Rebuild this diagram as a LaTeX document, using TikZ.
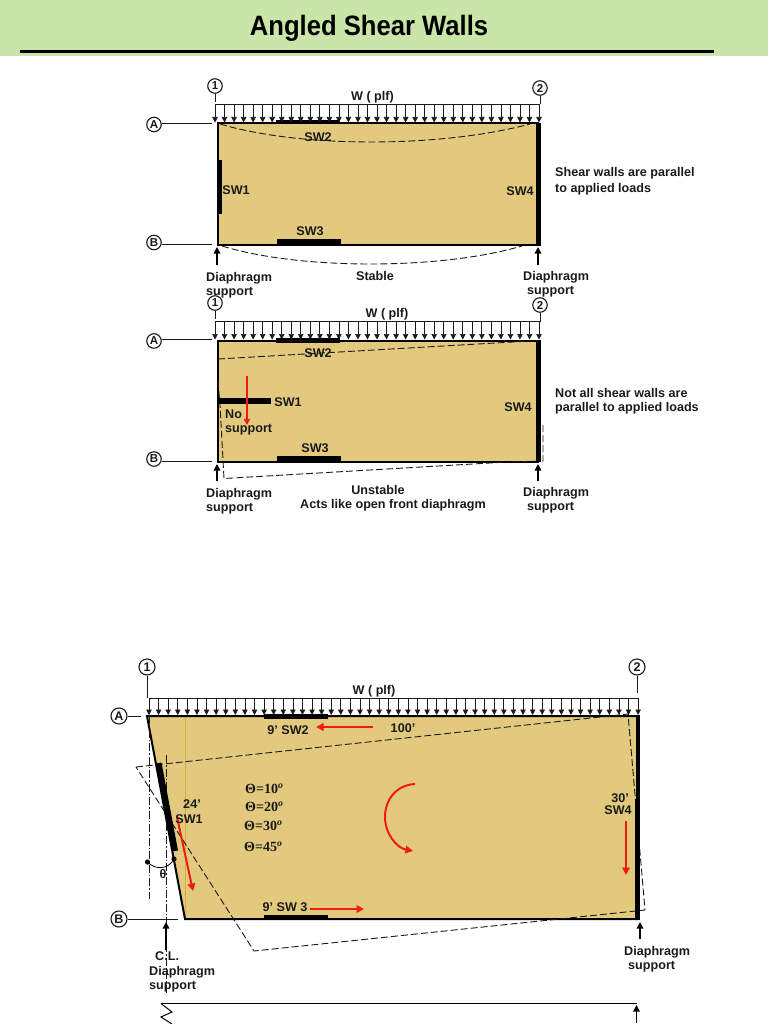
\documentclass[tikz,border=0pt]{standalone}
\usepackage{fontspec}
\setmainfont{Liberation Sans}
\newfontfamily\thetafont{Liberation Serif}
\usetikzlibrary{arrows.meta}
\definecolor{hdr}{HTML}{C9E6A8}
\definecolor{deck}{HTML}{E2C97E}
\definecolor{ink}{HTML}{1A1A1A}
\definecolor{redar}{HTML}{EE1C12}
\definecolor{yel}{HTML}{D4AE3C}
\tikzset{
  lbl/.style={inner sep=0pt,yshift=-1pt,text=ink,font=\fontsize{12.6}{15.2}\selectfont\bfseries},
  lblleft/.style={lbl,anchor=west,align=left},
  ttl/.style={inner sep=0pt,text=black,font=\fontsize{28}{30}\selectfont\bfseries},
  thlbl/.style={inner sep=0pt,anchor=west,text=ink,font=\fontsize{14}{16}\selectfont\bfseries\thetafont},
  bubble/.style={circle,draw=ink,line width=1.1pt,inner sep=0pt,minimum size=14.5pt,text=ink,font=\fontsize{11.5}{12}\selectfont\bfseries},
  bubblew/.style={bubble,minimum size=16pt,font=\fontsize{12.5}{12}\selectfont\bfseries},
  deckfill/.style={fill=deck,draw=black,line width=2pt,line join=miter},
  wall/.style={fill=black,draw=none},
  grid/.style={draw=ink,line width=0.8pt},
  loadline/.style={draw=ink,line width=0.8pt},
  loadarrow/.style={draw=ink,line width=0.7pt,-{Triangle[length=5.5pt,width=5.5pt]}},
  support/.style={draw=black,line width=1.5pt,-{Triangle[length=6.5pt,width=6.5pt]}},
  defl/.style={draw=ink,line width=0.9pt,dash pattern=on 7pt off 3pt},
  redarrow/.style={draw=redar,line width=2pt,-{Triangle[length=7.5pt,width=7.5pt]}},
  cline/.style={draw=ink,line width=0.7pt,dash pattern=on 8pt off 2pt on 1.5pt off 2pt},
}
\begin{document}
\begin{tikzpicture}[x=1pt,y=-1pt]
\useasboundingbox (0,0) rectangle (768,1024);
% header
\fill[hdr] (0,0) rectangle (768,56);
\coordinate (hl) at (20,51.3); \coordinate (hr) at (714,51.3);
\draw[black,line width=3pt] (hl) -- (hr);
\node[ttl] (title) at (369,28) {\scalebox{.915}[1]{Angled Shear Walls}};

% ---------- diagram 1
\draw[deckfill] (217.5,123.5) rectangle (537.5,244.5);
\draw[defl] (220,124) .. controls (300,148) and (440,148) .. (530,124);
\draw[defl] (222,246) .. controls (300,270) and (440,270) .. (522,246);
\fill[wall] (276,120) rectangle (340,124.5);
\fill[wall] (277,239) rectangle (341,245);
\fill[wall] (217,160) rectangle (222,214);
\fill[wall] (536,123) rectangle (541,246);
\node[bubble] (a1) at (215,86) {1};
\node[bubble] (a2) at (540,88) {2};
\node[bubble] (aA) at (154,124.5) {A};
\node[bubble] (aB) at (154,242.5) {B};
\coordinate (a1l) at (215,104); \coordinate (a2l) at (540,104);
\coordinate (aAr) at (212,123); \coordinate (aBr) at (212,244);
\draw[grid] (a1) -- (215,102);
\draw[grid] (a2) -- (a2l);
\draw[grid] (aA.east|-aAr) -- (aAr);
\draw[grid] (aB.east|-aBr) -- (aBr);
\draw[loadline] (a1l) -- (a2l);
\foreach \i in {0,...,34} \draw[loadarrow] ({215+\i*9.53},104) -- ({215+\i*9.53},122.5);
\coordinate (as1) at (217,265); \coordinate (as1t) at (217,247);
\coordinate (as2) at (538,265); \coordinate (as2t) at (538,247);
\draw[support] (as1) -- (as1t);
\draw[support] (as2) -- (as2t);
\node[lbl] (aw) at (372.5,96) {W ( plf)};
\node[lbl] (asw2) at (318,136) {SW2};
\node[lbl] (asw1) at (236,189) {SW1};
\node[lbl] (asw3) at (310,230) {SW3};
\node[lbl] (asw4) at (520,190) {SW4};
\node[lbl] (astable) at (375,274.5) {Stable};
\node[lblleft] (ad1) at (206,277) {Diaphragm};
\node[lblleft] (ad2) at (206,292) {support};
\node[lblleft] (ad3) at (523,276) {Diaphragm};
\node[lblleft] (ad4) at (527,291) {support};
\node[lblleft] (an1) at (555,172.5) {Shear walls are parallel};
\node[lblleft] (an2) at (555,188) {to applied loads};

% ---------- diagram 2
\draw[deckfill] (217.5,340.5) rectangle (537.5,461.5);
\draw[defl] (218,359) -- (530,341);
\draw[defl] (218,381) -- (220,405) -- (224,478.5) -- (507,462);
\draw[defl] (543,425) -- (543,461) -- (507,462);
\fill[wall] (276,338) rectangle (340,343);
\fill[wall] (277,456) rectangle (341,462);
\fill[wall] (217,398) rectangle (271,404);
\fill[wall] (536,340) rectangle (541,462);
\node[bubble] (b1) at (215,303) {1};
\node[bubble] (b2) at (540,305) {2};
\node[bubble] (bA) at (154,341) {A};
\node[bubble] (bB) at (154,459) {B};
\coordinate (b1l) at (215,321); \coordinate (b2l) at (541,321);
\coordinate (bAr) at (212,339); \coordinate (bBr) at (212,461);
\draw[grid] (b1) -- (215,319);
\draw[grid] (b2) -- (540,321);
\draw[grid] (bA.east|-bAr) -- (bAr);
\draw[grid] (bB.east|-bBr) -- (bBr);
\draw[loadline] (b1l) -- (b2l);
\foreach \i in {0,...,34} \draw[loadarrow] ({215+\i*9.53},321) -- ({215+\i*9.53},339.5);
\coordinate (bs1) at (217,481); \coordinate (bs1t) at (217,464);
\coordinate (bs2) at (538,481); \coordinate (bs2t) at (538,464);
\draw[support] (bs1) -- (bs1t);
\draw[support] (bs2) -- (bs2t);
\coordinate (br1) at (247,376); \coordinate (br2) at (247,425);
\draw[redarrow,line width=1.5pt,-{Triangle[length=6pt,width=6pt]}] (br1) -- (br2);
\node[lbl] (bw) at (387,313) {W ( plf)};
\node[lbl] (bsw2) at (318,352) {SW2};
\node[lbl] (bsw1) at (288,401) {SW1};
\node[lbl] (bsw3) at (315,447) {SW3};
\node[lbl] (bsw4) at (518,406) {SW4};
\node[lblleft] (bno1) at (225,413) {No};
\node[lblleft] (bno2) at (225,429) {support};
\node[lbl] (bu1) at (378,489) {Unstable};
\node[lbl] (bu2) at (393,504) {Acts like open front diaphragm};
\node[lblleft] (bd1) at (206,493) {Diaphragm};
\node[lblleft] (bd2) at (206,508) {support};
\node[lblleft] (bd3) at (523,492) {Diaphragm};
\node[lblleft] (bd4) at (527,507) {support};
\node[lblleft] (bn1) at (555,392) {Not all shear walls are};
\node[lblleft] (bn2) at (555,407) {parallel to applied loads};

% ---------- diagram 3
\fill[deck] (147,716) -- (638,716) -- (638,919) -- (185,919) -- cycle;
\draw[yel,line width=1pt] (185,716) -- (185,919);
\draw[black,line width=2pt,line join=miter] (638,716) -- (147,716) -- (185,919) -- (638,919);
\draw[defl] (136,767) -- (628,714) -- (645,910) -- (254,951) -- cycle;
\draw[cline] (149,716) -- (149,899);
\draw[cline] (166,755) -- (166,993);
\fill[wall] (264,714) rectangle (328,719);
\fill[wall] (264,915) rectangle (328,919.5);
\fill[wall] (156,763.5) -- (161.5,762.5) -- (178,850.5) -- (172.5,851.5) -- cycle;
\fill[wall] (636,715) rectangle (640,800);
\fill[wall] (635,799) rectangle (640,920);
\node[bubblew] (c1) at (147,667) {1};
\node[bubblew] (c2) at (637,667) {2};
\node[bubblew] (cA) at (119,716) {A};
\node[bubblew] (cB) at (119,919) {B};
\coordinate (c1l) at (149,698); \coordinate (c2l) at (638,698);
\coordinate (cAr) at (141,716); \coordinate (cBr) at (178,919);
\draw[grid] (c1) -- (147,698);
\draw[grid] (c2) -- (637,693);
\draw[grid] (cA.east) -- (cAr);
\draw[grid] (cB.east) -- (cBr);
\draw[loadline] (c1l) -- (c2l);
\foreach \i in {0,...,51} \draw[loadarrow] ({149+\i*9.59},698) -- ({149+\i*9.59},715);
\coordinate (cs1) at (166,950); \coordinate (cs1t) at (166,922);
\coordinate (cs2) at (640,939); \coordinate (cs2t) at (640,922);
\draw[support] (cs1) -- (cs1t);
\draw[support] (cs2) -- (cs2t);
% angle
\fill[black] (147.5,862) circle (2.6pt) coordinate (t1);
\fill[black] (174,859) circle (2.6pt) coordinate (t2);
\draw[black,line width=0.8pt] (t1) .. controls (155,870) and (168,870) .. (t2);
% red arrows
\coordinate (r1a) at (373,727); \coordinate (r1b) at (316,727);
\coordinate (r2a) at (310,909); \coordinate (r2b) at (364,909);
\coordinate (r3a) at (177,817); \coordinate (r3b) at (193,891);
\coordinate (r4a) at (626,821); \coordinate (r4b) at (626,875);
\coordinate (r5a) at (415,784); \coordinate (r5b) at (413,851);
\draw[redarrow] (r1a) -- (r1b);
\draw[redarrow] (r2a) -- (r2b);
\draw[redarrow] (r3a) -- (r3b);
\draw[redarrow] (r4a) -- (r4b);
\draw[redarrow] (r5a) .. controls (396,785) and (385,800) .. (385,817) .. controls (385,834) and (397,848) .. (r5b);
% labels
\node[lbl] (cw) at (374,690) {W ( plf)};
\node[lbl] (csw2) at (288,729) {9' SW2};
\node[lbl] (c100) at (403,727) {100'};
\node[lbl] (csw3) at (285,906) {9' SW 3};
\node[lbl] (c24) at (192,803) {24'};
\node[lbl] (csw1) at (189,818) {SW1};
\node[lbl] (c30) at (620,797) {30'};
\node[lbl] (csw4) at (618,809) {SW4};
\node[thlbl] (th1) at (245,789) {Θ=10\textsuperscript{\itshape o}};
\node[thlbl] (th2) at (245,807) {Θ=20\textsuperscript{\itshape o}};
\node[thlbl] (th3) at (244,826) {Θ=30\textsuperscript{\itshape o}};
\node[thlbl] (th4) at (244,847) {Θ=45\textsuperscript{\itshape o}};
\node[lbl] (cth) at (163,873) {θ};
\node[lblleft] (ccl) at (155,955) {C.L.};
\node[lblleft] (cd1) at (149,971) {Diaphragm};
\node[lblleft] (cd2) at (149,986) {support};
\node[lblleft] (cd3) at (624,951) {Diaphragm};
\node[lblleft] (cd4) at (628,966) {support};
% bottom dimension
\coordinate (dl) at (161,1003.5); \coordinate (dr) at (637,1003.5);
\draw[black,line width=1.2pt] (dl) -- (dr);
\draw[black,line width=1pt] (dl) -- (172,1012) -- (161,1017) -- (172,1024);
\coordinate (dsb) at (636.5,1023); \coordinate (dst) at (636.5,1005);
\draw[support] (dsb) -- (dst);
\end{tikzpicture}
\end{document}
